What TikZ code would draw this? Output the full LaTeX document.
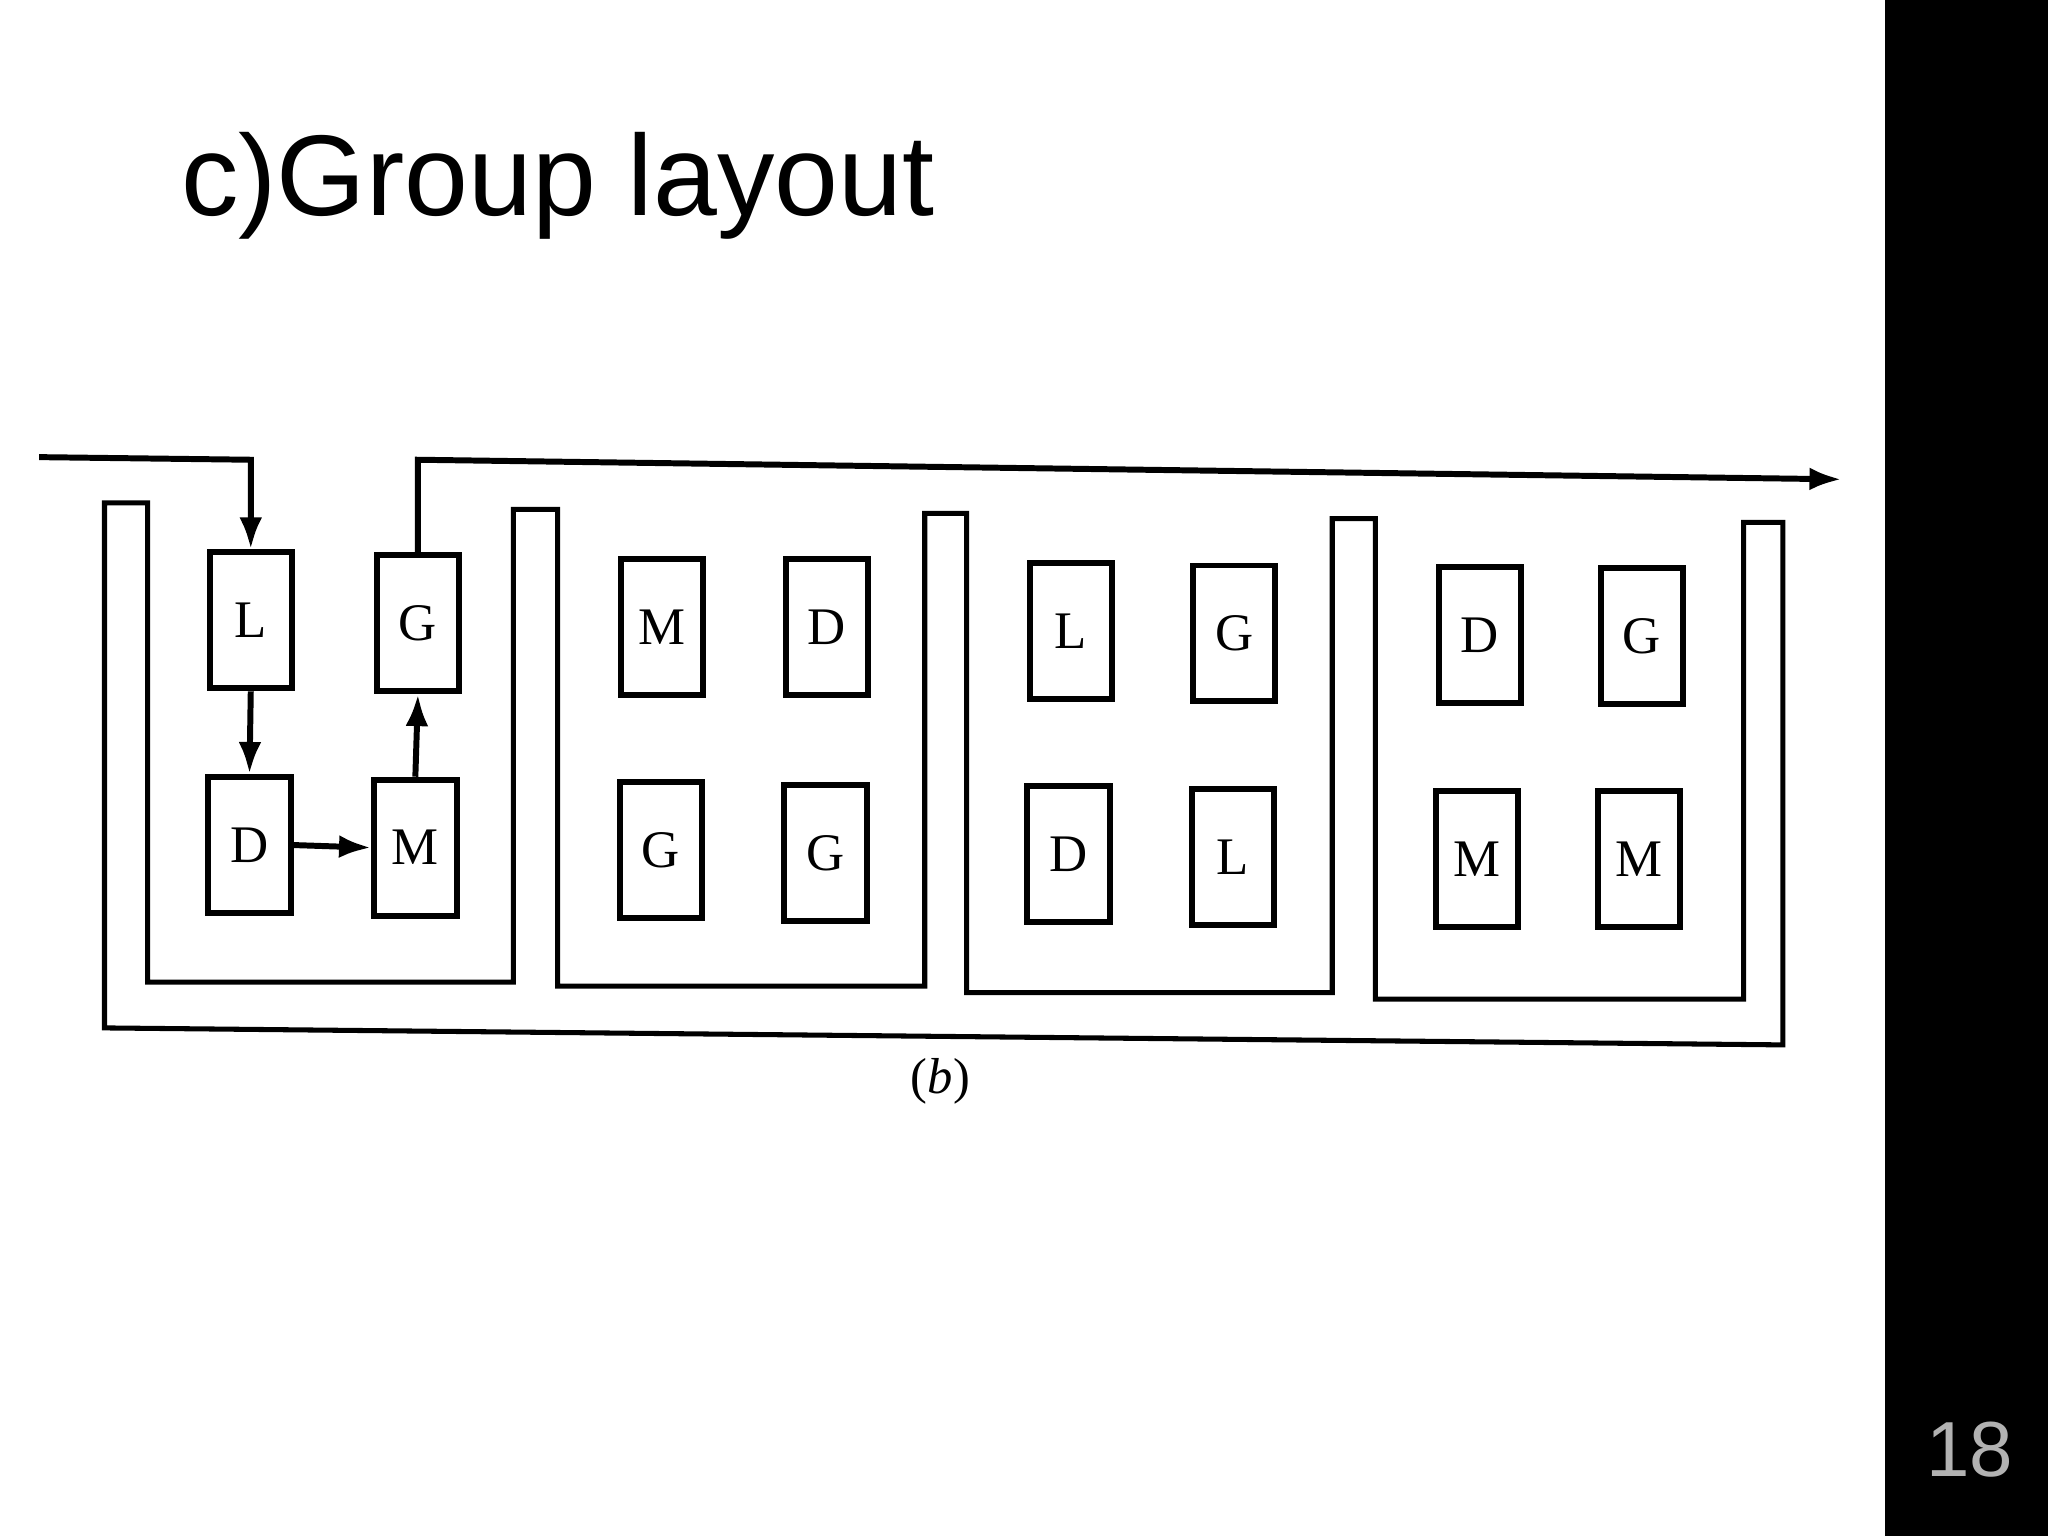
\documentclass[tikz,border=0pt]{standalone}
\usepackage{fontspec}
\setmainfont{Liberation Serif}
\newfontfamily\titlefont{Liberation Sans}
\usetikzlibrary{arrows.meta}
\begin{document}
\begin{tikzpicture}[x=0.01cm,y=-0.01cm,
  mach/.style={draw,line width=1.3pt,minimum width=0.63cm,minimum height=1.04cm,inner sep=0pt,font=\fontsize{11.5}{12}\selectfont},
  wall/.style={line width=1.1pt,line join=miter},
  flow/.style={line width=1.3pt,-{Latex[length=7pt,width=5pt]}}]
\useasboundingbox (0,0) rectangle (1568,1176);
\fill[black] (1443,0) rectangle (1568,1176);
\node[anchor=base west,inner sep=0pt,font=\titlefont\fontsize{25}{30}\selectfont] (title) at (138,165) {c)Group layout};
\node[anchor=center,text=gray!60,font=\titlefont\fontsize{17}{20}\selectfont] (pg) at (1508,1110) {18};
% walls
\draw[wall] (113,385)--(80,385)--(80,787)--(1365,800)--(1365,400)--(1335,400)--(1335,765)--(1053,765)--(1053,397)--(1020,397)--(1020,760)--(740,760)--(740,393)--(708,393)--(708,755)--(427,755)--(427,390)--(393,390)--(393,752)--(113,752)--cycle;
% machines
\node[mach] (L1) at (192,475) {L};
\node[mach] (G1) at (320,477) {G};
\node[mach] (D1) at (191,647) {D};
\node[mach] (M1) at (318,649) {M};
\node[mach] (M2) at (507,480) {M};
\node[mach] (D2) at (633,480) {D};
\node[mach] (G2) at (506,651) {G};
\node[mach] (G3) at (632,653) {G};
\node[mach] (L3) at (820,483) {L};
\node[mach] (G4) at (945,485) {G};
\node[mach] (D3) at (818,654) {D};
\node[mach] (L4) at (944,656) {L};
\node[mach] (D4) at (1133,486) {D};
\node[mach] (G5) at (1257,487) {G};
\node[mach] (M3) at (1131,658) {M};
\node[mach] (M4) at (1255,658) {M};
% flow
\coordinate (in) at (30,350);
\coordinate (out) at (1410,367);
\draw[flow] (in) -- (192,352) -- (L1.north);
\draw[flow] (L1.south) -- (D1.north);
\draw[flow] (D1.east) -- (M1.west);
\draw[flow] (M1.north) -- (G1.south);
\draw[flow] (G1.north) -- (320,352) -- (out);
\node[font=\fontsize{11}{12}\selectfont] (cap) at (720,828) {(\textit{b})};
\end{tikzpicture}
\end{document}
